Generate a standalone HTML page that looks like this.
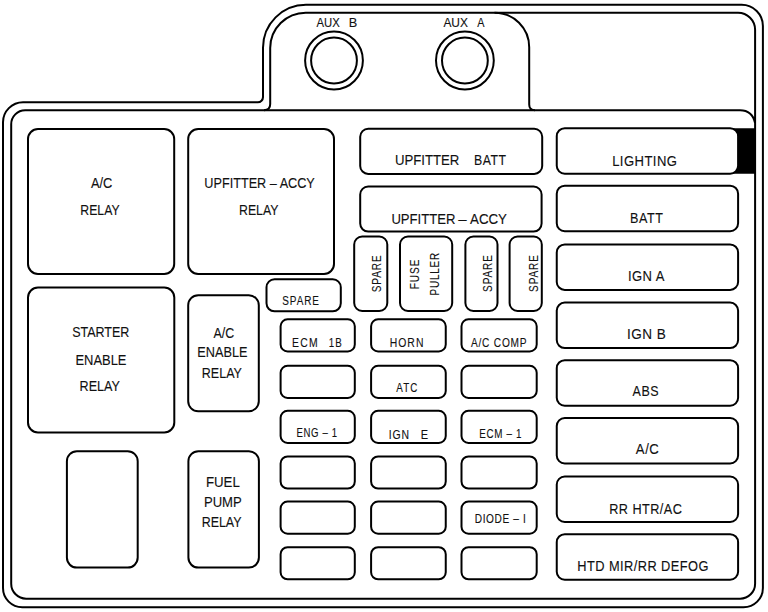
<!DOCTYPE html>
<html><head><meta charset="utf-8"><style>
html,body{margin:0;padding:0;background:#fff;width:768px;height:612px;overflow:hidden}
svg{display:block}
text{font-family:"Liberation Sans",sans-serif;fill:#111;stroke:#111;stroke-width:0.12px;white-space:pre}
</style></head><body>
<svg width="768" height="612" viewBox="0 0 768 612">
<g>
<g fill="none" stroke="#000" stroke-width="2.0">
<path d="M3,122.4 V588 A19.3,19.3 0 0 0 22.3,607.3 H743.5 A19.4,19.4 0 0 0 762.9,587.9 V26 A21.2,21.2 0 0 0 741.7,4.8 H306 A43,43 0 0 0 263,47.8 V97 A5.2,5.2 0 0 1 257.8,102.3 H23 A20,20 0 0 0 3,122.3 Z"/>
<path d="M270.2,104 V48 A35.5,35.5 0 0 1 305.7,12.7 H738 A17.1,17.1 0 0 1 755.1,29.8 V583.7 A15,15 0 0 1 740.1,598.7 H26.2 A15,15 0 0 1 11.2,583.7 V124.3 A14,14 0 0 1 25.2,110.2 H740 Q752.3,110.2 755.1,123"/>
<path d="M270.2,104 Q270.2,110.2 264,110.2"/>
<path d="M494.5,12.7 A34.6,34.6 0 0 1 529.2,47.3 V104.5 Q529.2,110.2 535,110.2"/>
<circle cx="334" cy="60.5" r="28.9"/>
<circle cx="334" cy="60.5" r="22.9"/>
<circle cx="464.9" cy="60.5" r="28.9"/>
<circle cx="464.9" cy="60.5" r="22.9"/>
<rect x="28.00" y="129.00" width="146.20" height="145.00" rx="10" ry="10" />
<rect x="188.20" y="129.00" width="145.80" height="145.00" rx="10" ry="10" />
<rect x="28.00" y="287.50" width="146.30" height="145.00" rx="10" ry="10" />
<rect x="188.20" y="295.20" width="70.60" height="116.10" rx="10" ry="10" />
<rect x="66.90" y="451.20" width="70.80" height="116.40" rx="10" ry="10" />
<rect x="188.40" y="451.20" width="70.50" height="116.40" rx="10" ry="10" />
<rect x="360.20" y="128.80" width="182.00" height="45.10" rx="8" ry="8" />
<rect x="360.20" y="186.50" width="181.40" height="45.10" rx="8" ry="8" />
<rect x="266.50" y="279.30" width="74.30" height="32.00" rx="8" ry="8" />
<rect x="354.20" y="236.50" width="33.10" height="74.50" rx="8" ry="8" />
<rect x="400.00" y="236.50" width="52.20" height="74.50" rx="8" ry="8" />
<rect x="465.40" y="236.50" width="32.10" height="74.50" rx="8" ry="8" />
<rect x="509.60" y="236.50" width="32.20" height="74.50" rx="8" ry="8" />
<rect x="280.60" y="319.30" width="74.20" height="32.10" rx="7" ry="7" />
<rect x="280.60" y="365.80" width="74.20" height="32.10" rx="7" ry="7" />
<rect x="280.60" y="410.80" width="74.20" height="32.10" rx="7" ry="7" />
<rect x="280.60" y="456.40" width="74.20" height="32.10" rx="7" ry="7" />
<rect x="280.60" y="501.60" width="74.20" height="32.10" rx="7" ry="7" />
<rect x="280.60" y="547.20" width="74.20" height="32.10" rx="7" ry="7" />
<rect x="371.10" y="319.30" width="74.65" height="32.10" rx="7" ry="7" />
<rect x="371.10" y="365.80" width="74.65" height="32.10" rx="7" ry="7" />
<rect x="371.10" y="410.80" width="74.65" height="32.10" rx="7" ry="7" />
<rect x="371.10" y="456.40" width="74.65" height="32.10" rx="7" ry="7" />
<rect x="371.10" y="501.60" width="74.65" height="32.10" rx="7" ry="7" />
<rect x="371.10" y="547.20" width="74.65" height="32.10" rx="7" ry="7" />
<rect x="461.50" y="319.30" width="75.20" height="32.10" rx="7" ry="7" />
<rect x="461.50" y="365.80" width="75.20" height="32.10" rx="7" ry="7" />
<rect x="461.50" y="410.80" width="75.20" height="32.10" rx="7" ry="7" />
<rect x="461.50" y="456.40" width="75.20" height="32.10" rx="7" ry="7" />
<rect x="461.50" y="501.60" width="75.20" height="32.10" rx="7" ry="7" />
<rect x="461.50" y="547.20" width="75.20" height="32.10" rx="7" ry="7" />
<path d="M724,128.2 H755 V173.7 H724 Z" fill="#000" stroke="none"/>
<rect x="556.75" y="128.20" width="181.35" height="45.50" rx="8" ry="8" fill="#fff"/>
<rect x="556.75" y="185.70" width="181.35" height="45.50" rx="8" ry="8" />
<rect x="556.75" y="244.40" width="181.35" height="45.50" rx="8" ry="8" />
<rect x="556.75" y="302.60" width="181.35" height="45.50" rx="8" ry="8" />
<rect x="556.75" y="360.20" width="181.35" height="45.50" rx="8" ry="8" />
<rect x="556.75" y="418.00" width="181.35" height="45.50" rx="8" ry="8" />
<rect x="556.75" y="476.50" width="181.35" height="45.50" rx="8" ry="8" />
<rect x="556.75" y="534.20" width="181.35" height="45.50" rx="8" ry="8" />
</g>
<g>
<text transform="translate(316.58,26.80) scale(0.8978,1)" font-size="12.60" letter-spacing="0.000">AUX</text>
<text transform="translate(348.65,26.80) scale(1.0140,1)" font-size="12.60" letter-spacing="0.000">B</text>
<text transform="translate(443.38,26.90) scale(0.9485,1)" font-size="12.60" letter-spacing="0.000">AUX</text>
<text transform="translate(477.18,26.90) scale(0.8618,1)" font-size="12.60" letter-spacing="0.000">A</text>
<text transform="translate(90.88,187.70) scale(0.9019,1)" font-size="14.18" letter-spacing="0.000">A/C</text>
<text transform="translate(80.30,214.50) scale(0.8643,1)" font-size="14.18" letter-spacing="0.000">RELAY</text>
<text transform="translate(204.32,188.00) scale(0.8941,1)" font-size="14.18" letter-spacing="0.000">UPFITTER – ACCY</text>
<text transform="translate(238.99,215.00) scale(0.8687,1)" font-size="14.18" letter-spacing="0.000">RELAY</text>
<text transform="translate(72.13,337.40) scale(0.8835,1)" font-size="14.18" letter-spacing="0.000">STARTER</text>
<text transform="translate(75.44,365.30) scale(0.9120,1)" font-size="14.18" letter-spacing="0.000">ENABLE</text>
<text transform="translate(79.57,391.20) scale(0.8887,1)" font-size="14.18" letter-spacing="0.000">RELAY</text>
<text transform="translate(213.38,338.00) scale(0.8802,1)" font-size="14.18" letter-spacing="0.000">A/C</text>
<text transform="translate(197.36,357.40) scale(0.8972,1)" font-size="14.18" letter-spacing="0.000">ENABLE</text>
<text transform="translate(201.77,377.70) scale(0.8843,1)" font-size="14.18" letter-spacing="0.000">RELAY</text>
<text transform="translate(205.91,487.30) scale(0.9364,1)" font-size="14.18" letter-spacing="0.000">FUEL</text>
<text transform="translate(203.92,506.80) scale(0.9246,1)" font-size="14.18" letter-spacing="0.000">PUMP</text>
<text transform="translate(201.68,527.40) scale(0.8776,1)" font-size="14.18" letter-spacing="0.000">RELAY</text>
<text transform="translate(394.88,165.40) scale(0.9312,1)" font-size="14.18" letter-spacing="0.000">UPFITTER</text>
<text transform="translate(473.99,165.40) scale(0.8669,1)" font-size="14.18" letter-spacing="0.609">BATT</text>
<text transform="translate(391.39,223.60) scale(0.9253,1)" font-size="14.18" letter-spacing="0.000">UPFITTER</text>
<text transform="translate(458.30,223.60) scale(1.0665,1)" font-size="14.18" letter-spacing="0.000">–</text>
<text transform="translate(470.07,223.60) scale(0.9374,1)" font-size="14.18" letter-spacing="0.000">ACCY</text>
<text transform="translate(282.25,305.30) scale(0.8262,1)" font-size="12.08" letter-spacing="1.107">SPARE</text>
<text transform="translate(380.80,292.36) rotate(-90) scale(0.7663,1)" font-size="13.12" letter-spacing="1.204">SPARE</text>
<text transform="translate(418.80,289.28) rotate(-90) scale(0.7675,1)" font-size="13.12" letter-spacing="1.236">FUSE</text>
<text transform="translate(438.60,295.51) rotate(-90) scale(0.7546,1)" font-size="13.12" letter-spacing="1.097">PULLER</text>
<text transform="translate(491.70,291.95) rotate(-90) scale(0.7622,1)" font-size="13.12" letter-spacing="1.204">SPARE</text>
<text transform="translate(537.60,291.95) rotate(-90) scale(0.7622,1)" font-size="13.12" letter-spacing="1.204">SPARE</text>
<text transform="translate(292.05,346.80) scale(0.8619,1)" font-size="12.08" letter-spacing="1.381">ECM</text>
<text transform="translate(328.65,346.80) scale(0.8106,1)" font-size="12.08" letter-spacing="1.468">1B</text>
<text transform="translate(389.65,347.30) scale(0.8604,1)" font-size="12.08" letter-spacing="1.244">HORN</text>
<text transform="translate(470.88,347.00) scale(0.8413,1)" font-size="12.08" letter-spacing="0.937">A/C COMP</text>
<text transform="translate(396.28,391.70) scale(0.8138,1)" font-size="12.08" letter-spacing="1.315">ATC</text>
<text transform="translate(296.51,437.30) scale(0.7928,1)" font-size="12.08" letter-spacing="0.828">ENG – 1</text>
<text transform="translate(388.64,438.90) scale(0.8643,1)" font-size="12.08" letter-spacing="1.076">IGN</text>
<text transform="translate(420.65,438.90) scale(0.9092,1)" font-size="12.08" letter-spacing="0.000">E</text>
<text transform="translate(479.19,437.70) scale(0.8149,1)" font-size="12.08" letter-spacing="0.841">ECM – 1</text>
<text transform="translate(474.77,523.00) scale(0.8385,1)" font-size="12.08" letter-spacing="0.735">DIODE – I</text>
<text transform="translate(612.13,165.80) scale(0.9218,1)" font-size="14.18" letter-spacing="0.487">LIGHTING</text>
<text transform="translate(630.07,223.30) scale(0.8888,1)" font-size="14.18" letter-spacing="0.609">BATT</text>
<text transform="translate(627.90,280.80) scale(0.9179,1)" font-size="14.18" letter-spacing="0.490">IGN A</text>
<text transform="translate(627.05,338.90) scale(0.9568,1)" font-size="14.18" letter-spacing="0.481">IGN B</text>
<text transform="translate(632.48,395.60) scale(0.8784,1)" font-size="14.18" letter-spacing="0.729">ABS</text>
<text transform="translate(635.87,453.90) scale(0.9227,1)" font-size="14.18" letter-spacing="0.607">A/C</text>
<text transform="translate(609.26,513.90) scale(0.8950,1)" font-size="14.18" letter-spacing="0.497">RR HTR/AC</text>
<text transform="translate(577.25,570.60) scale(0.9053,1)" font-size="14.18" letter-spacing="0.476">HTD MIR/RR DEFOG</text>
</g>
</g>
</svg>
</body></html>
